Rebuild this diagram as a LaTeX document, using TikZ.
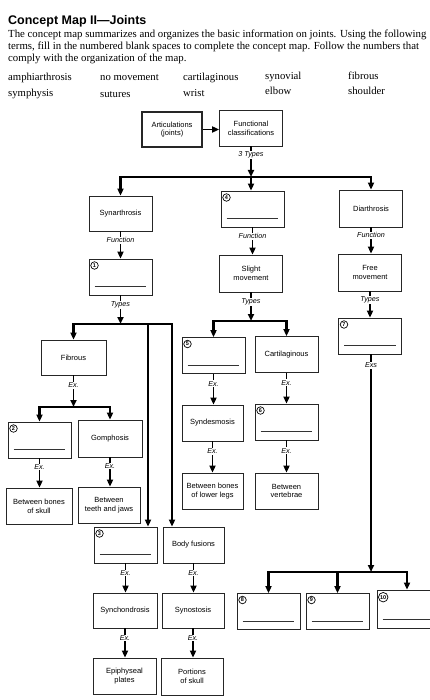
\documentclass[tikz,border=0pt]{standalone}
\usepackage{fontspec}
\setmainfont{Liberation Serif}
\setsansfont{Liberation Sans}
\usetikzlibrary{arrows.meta}
\tikzset{
  box/.style={draw=black!85, line width=0.8pt, minimum width=63pt, minimum height=36pt, align=center, inner sep=1pt, font=\sffamily\fontsize{7.5}{8.8}\selectfont, fill=white},
  tip/.style={-{Triangle[length=7pt,width=6pt]}},
  conn/.style={line width=1.8pt, tip},
  bar/.style={line width=2.2pt},
  lbl/.style={fill=white, inner sep=0.8pt, font=\sffamily\itshape\fontsize{7.2}{8}\selectfont},
  num/.style={circle, draw, line width=0.7pt, inner sep=0pt, minimum size=7.5pt, font=\sffamily\bfseries\fontsize{5.5}{6}\selectfont},
  blankline/.style={line width=0.6pt, black!80},
  para/.style={anchor=base west, inner sep=0pt, font=\fontsize{10.8}{12}\selectfont},
  word/.style={anchor=base west, inner sep=0pt, font=\fontsize{10.7}{12}\selectfont},
}
\newcommand\blankbox[4]{%
  \node[box] (#1) at (#2,#3) {};
  \node[num, anchor=north west] (#1n) at ([shift={(3,4)}]#1.north west) {#4};
  \draw[blankline] ([shift={(6,-9)}]#1.south west) -- ([shift={(-6,-9)}]#1.south east);
}
\begin{document}
\begin{tikzpicture}[x=1pt,y=-1pt]
\useasboundingbox (0,0) rectangle (430,700);
\fill[white] (0,0) rectangle (430,700);
\clip (0,0) rectangle (430,700);

% heading and instructions
\node[anchor=base west, inner sep=0pt, font=\sffamily\bfseries\fontsize{12.5}{14}\selectfont] (title) at (8,25) {Concept Map II—Joints};
\node[para] (p1) at (8,38) {The concept map summarizes and organizes the basic information on joints. Using the following};
\node[para] (p2) at (8,50) {terms, fill in the numbered blank spaces to complete the concept map. Follow the numbers that};
\node[para] (p3) at (8,62) {comply with the organization of the map.};

\node[word] (w1) at (8,81) {amphiarthrosis};
\node[word] (w2) at (100,81) {no movement};
\node[word] (w3) at (183,81) {cartilaginous};
\node[word] (w4) at (265,80) {synovial};
\node[word] (w5) at (348,80) {fibrous};
\node[word] (w6) at (8,97) {symphysis};
\node[word] (w7) at (100,98) {sutures};
\node[word] (w8) at (183,97) {wrist};
\node[word] (w9) at (265,95) {elbow};
\node[word] (w10) at (348,95) {shoulder};

% top
\node[box, line width=2pt, minimum width=60pt, minimum height=35pt] (art) at (172,129.5) {Articulations\\(joints)};
\node[box] (func) at (251,128) {Functional\\classifications};
\draw[conn] (art.east) -- (art.east -| func.west);

% level 1
\node[box, minimum height=35pt] (syn) at (120.5,213.5) {Synarthrosis};
\blankbox{b4}{252.5}{209}{4}
\node[box, minimum height=37pt] (dia) at (371,208.5) {Diarthrosis};

\coordinate (j0) at (251,177);
\draw[conn] (func.south) -- node[lbl,pos=0.27]{3 Types} (j0);
\draw[bar, tip] (j0) -| (syn.north);
\draw[bar, tip] (j0) -| (dia.north);
\draw[conn] (j0) -- (j0 |- b4.north);

% left column
\blankbox{b1}{120.5}{277}{1}
\draw[conn] (syn.south) -- node[lbl,pos=0.32]{Function} (syn.south |- b1.north);
\coordinate (j1) at (120.5,324);
\draw[conn] (b1.south) -- node[lbl,pos=0.32]{Types} (j1);
\node[box, minimum width=65pt, minimum height=35pt] (fib) at (73.5,357.5) {Fibrous};
\coordinate (j1m) at (148,324);
\coordinate (j1r) at (172,324);
\draw[bar, tip] (j1) -| (fib.north);

\coordinate (j2) at (73.5,407);
\draw[conn] (fib.south) -- node[lbl,pos=0.32]{Ex.} (j2);
\blankbox{b2}{39.5}{440}{2}
\node[box, minimum width=64pt, minimum height=37pt] (gom) at (110,438.5) {Gomphosis};
\draw[bar, tip] (j2) -| (b2.north);
\draw[bar, tip] (j2) -| (gom.north);
\node[box, minimum width=66pt] (skull) at (39,506) {Between bones\\of skull};
\node[box, minimum width=62pt] (teeth) at (109,505) {Between\\teeth and jaws};
\draw[conn] (b2.south) -- node[lbl,pos=0.3]{Ex.} (b2.south |- skull.north);
\draw[conn] (gom.south) -- node[lbl,pos=0.3]{Ex.} (gom.south |- teeth.north);

\blankbox{b3}{125.5}{545}{3}
\node[box, minimum width=61pt] (body) at (193.5,545) {Body fusions};
\draw[bar, tip] (j1m) -- (j1m |- b3.north);
\draw[bar, tip] (j1) -- (j1r) -- (j1r |- body.north);
\node[box, minimum width=64pt, minimum height=35pt] (sync) at (125,610.5) {Synchondrosis};
\node[box, minimum width=62pt, minimum height=35pt] (synost) at (193,610.5) {Synostosis};
\draw[conn] (b3.south) -- node[lbl,pos=0.33]{Ex.} (b3.south |- sync.north);
\draw[conn] (body.south) -- node[lbl,pos=0.33]{Ex.} (body.south |- synost.north);
\node[box] (epi) at (124.5,676) {Epiphyseal\\plates};
\node[box, minimum width=62pt, minimum height=37pt] (port) at (192,676.5) {Portions\\of skull};
\draw[conn] (sync.south) -- node[lbl,pos=0.33]{Ex.} (sync.south |- epi.north);
\draw[conn] (synost.south) -- node[lbl,pos=0.33]{Ex.} (synost.south |- port.north);

% middle column
\node[box, minimum height=37pt] (slight) at (251,273.5) {Slight\\movement};
\draw[conn] (b4.south) -- node[lbl,pos=0.32]{Function} (b4.south |- slight.north);
\coordinate (j3) at (251,321);
\draw[conn] (slight.south) -- node[lbl,pos=0.32]{Types} (j3);
\blankbox{b5}{213.5}{355.5}{5}
\node[box] (cart) at (286.5,354.5) {Cartilaginous};
\draw[bar, tip] (j3) -| (b5.north);
\draw[bar, tip] (j3) -| (cart.north);
\node[box, minimum width=61pt] (synd) at (212.5,423) {Syndesmosis};
\blankbox{b6}{286.5}{422}{6}
\draw[conn] (b5.south) -- node[lbl,pos=0.32]{Ex.} (b5.south |- synd.north);
\draw[conn] (cart.south) -- node[lbl,pos=0.32]{Ex.} (cart.south |- b6.north);
\node[box, minimum width=61pt] (legs) at (212.5,491) {Between bones\\of lower legs};
\node[box] (vert) at (286.5,491) {Between\\vertebrae};
\draw[conn] (synd.south) -- node[lbl,pos=0.32]{Ex.} (synd.south |- legs.north);
\draw[conn] (b6.south) -- node[lbl,pos=0.32]{Ex.} (b6.south |- vert.north);

% right column
\node[box, minimum height=37pt] (free) at (370,272.5) {Free\\movement};
\draw[conn] (dia.south) -- node[lbl,pos=0.3]{Function} (dia.south |- free.north);
\blankbox{b7}{370}{336}{7}
\draw[conn] (free.south) -- node[lbl,pos=0.32]{Types} (free.south |- b7.north);
\coordinate (j4) at (371,572);
\draw[conn] (b7.south -| j4) -- node[lbl,pos=0.05]{Exs} (j4);
\blankbox{b8}{268.5}{611.5}{8}
\blankbox{b9}{337.5}{611.5}{9}
\node[box, minimum height=38pt] (b10) at (408.5,609) {};
\node[num, minimum size=9.5pt, anchor=north west] (b10n) at ([shift={(3,4)}]b10.north west) {10};
\draw[blankline] ([shift={(6,-9)}]b10.south west) -- ([shift={(-6,-9)}]b10.south east);
\coordinate (j4m) at (337.5,572);
\draw[bar, tip] (j4) -| (b8.north);
\draw[bar, tip] (j4) -| ([xshift=-1.5pt]b10.north);
\draw[bar, tip] (j4m) -- (b9.north);
\end{tikzpicture}
\end{document}
